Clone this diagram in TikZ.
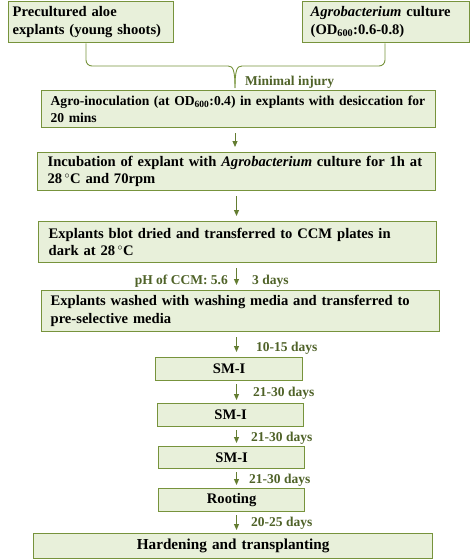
\documentclass[tikz,border=0pt]{standalone}
\usepackage{fontspec}
\setmainfont{Liberation Serif}
\usetikzlibrary{arrows.meta}
\definecolor{boxline}{RGB}{119,147,60}
\definecolor{boxfill}{RGB}{232,240,218}
\definecolor{labelc}{RGB}{79,98,40}
\definecolor{arrowc}{RGB}{100,125,50}
\tikzset{
  stepbox/.style={draw=boxline, fill=boxfill, line width=1.3pt, font=\fontsize{14.6}{17.5}\selectfont\bfseries,
    anchor=north west, inner ysep=0pt, align=left},
  flowarrow/.style={draw=arrowc, line width=1pt, -{Triangle[width=5pt,length=6pt]}, shorten <=5pt, shorten >=5pt},
  lbl/.style={text=labelc, font=\fontsize{13.5}{15}\selectfont\bfseries, inner sep=0pt},
  bracel/.style={draw=boxline, line width=0.9pt}
}
\begin{document}
\begin{tikzpicture}[x=1pt,y=-1pt]
\useasboundingbox (0,0) rectangle (474,559);
% boxes
\node[stepbox, inner xsep=4pt, text width=157pt, minimum height=41pt] (b1) at (8,1)
  {Precultured aloe\\explants (young shoots)};
\node[stepbox, inner xsep=8pt, text width=151pt, minimum height=41pt] (b2) at (302,1)
  {\textit{Agrobacterium} culture\\(OD\textsubscript{600}:0.6-0.8)};
\node[stepbox, inner xsep=9pt, text width=376pt, minimum height=37pt, font=\fontsize{13.6}{16.5}\selectfont\bfseries] (b3) at (41,90)
  {Agro-inoculation (at OD\textsubscript{600}:0.4) in explants with desiccation for\\20 mins};
\node[stepbox, inner xsep=10pt, text width=378pt, minimum height=38pt] (b4) at (37,152)
  {Incubation of explant with \textit{Agrobacterium} culture for 1h at\\28\,$^{\circ}$C and 70rpm};
\node[stepbox, inner xsep=10pt, text width=378pt, minimum height=41pt] (b5) at (38,221)
  {Explants blot dried and transferred to CCM plates in\\dark at 28\,$^{\circ}$C};
\node[stepbox, inner xsep=9pt, text width=380pt, minimum height=41pt] (b6) at (41,290)
  {Explants washed with washing media and transferred to\\pre-selective media};
\node[stepbox, inner xsep=0pt, text width=147pt, minimum height=23pt, align=center] (s1) at (155,357) {SM-I};
\node[stepbox, inner xsep=0pt, text width=146pt, minimum height=23pt, align=center] (s2) at (157,403) {SM-I};
\node[stepbox, inner xsep=0pt, text width=146pt, minimum height=22pt, align=center] (s3) at (158,446) {SM-I};
\node[stepbox, inner xsep=0pt, text width=146pt, minimum height=23pt, align=center] (r1) at (158,488) {Rooting};
\node[stepbox, inner xsep=0pt, text width=399pt, minimum height=25pt, align=center, font=\fontsize{15.2}{17.5}\selectfont\bfseries] (h1) at (33,533) {Hardening and transplanting};
% brace
\coordinate (tip) at (235,88);
\coordinate (ax) at (236.5,0);
\draw[bracel] (b1.south -| 86,0) -- (86,60) to[out=-90,in=180] (92,66) -- (228,66)
  .. controls (233,66) and (235,70) .. (tip);
\draw[bracel] (b2.south -| 385,0) -- (385,60) to[out=-90,in=0] (379,66) -- (242,66)
  .. controls (237,66) and (235,70) .. (tip);
\node[lbl, anchor=west] (l0) at (245,82) {Minimal injury};
% arrows
\draw[flowarrow] (b3.south -| 235,0) -- (b4.north -| 235,0);
\draw[flowarrow] (b4.south -| ax) -- (b5.north -| ax);
\draw[flowarrow] (b5.south -| ax) -- (b6.north -| ax);
\draw[flowarrow] (b6.south -| ax) -- (s1.north -| ax);
\draw[flowarrow, shorten <=3pt, shorten >=3pt] (s1.south -| ax) -- (s2.north -| ax);
\draw[flowarrow, shorten <=3pt, shorten >=3pt] (s2.south -| ax) -- (s3.north -| ax);
\draw[flowarrow, shorten <=3pt, shorten >=3pt] (s3.south -| ax) -- (r1.north -| ax);
\draw[flowarrow, shorten <=3pt, shorten >=3pt] (r1.south -| ax) -- (h1.north -| ax);
% labels
\node[lbl, anchor=east] (l1) at (228,281) {pH of CCM: 5.6};
\node[lbl, anchor=west] (l2) at (252,281) {3 days};
\node[lbl, anchor=west] (l3) at (256,348) {10-15 days};
\node[lbl, anchor=west] (l4) at (253,393) {21-30 days};
\node[lbl, anchor=west] (l5) at (251,438) {21-30 days};
\node[lbl, anchor=west] (l6) at (249,480) {21-30 days};
\node[lbl, anchor=west] (l7) at (251,523) {20-25 days};
\end{tikzpicture}
\end{document}
